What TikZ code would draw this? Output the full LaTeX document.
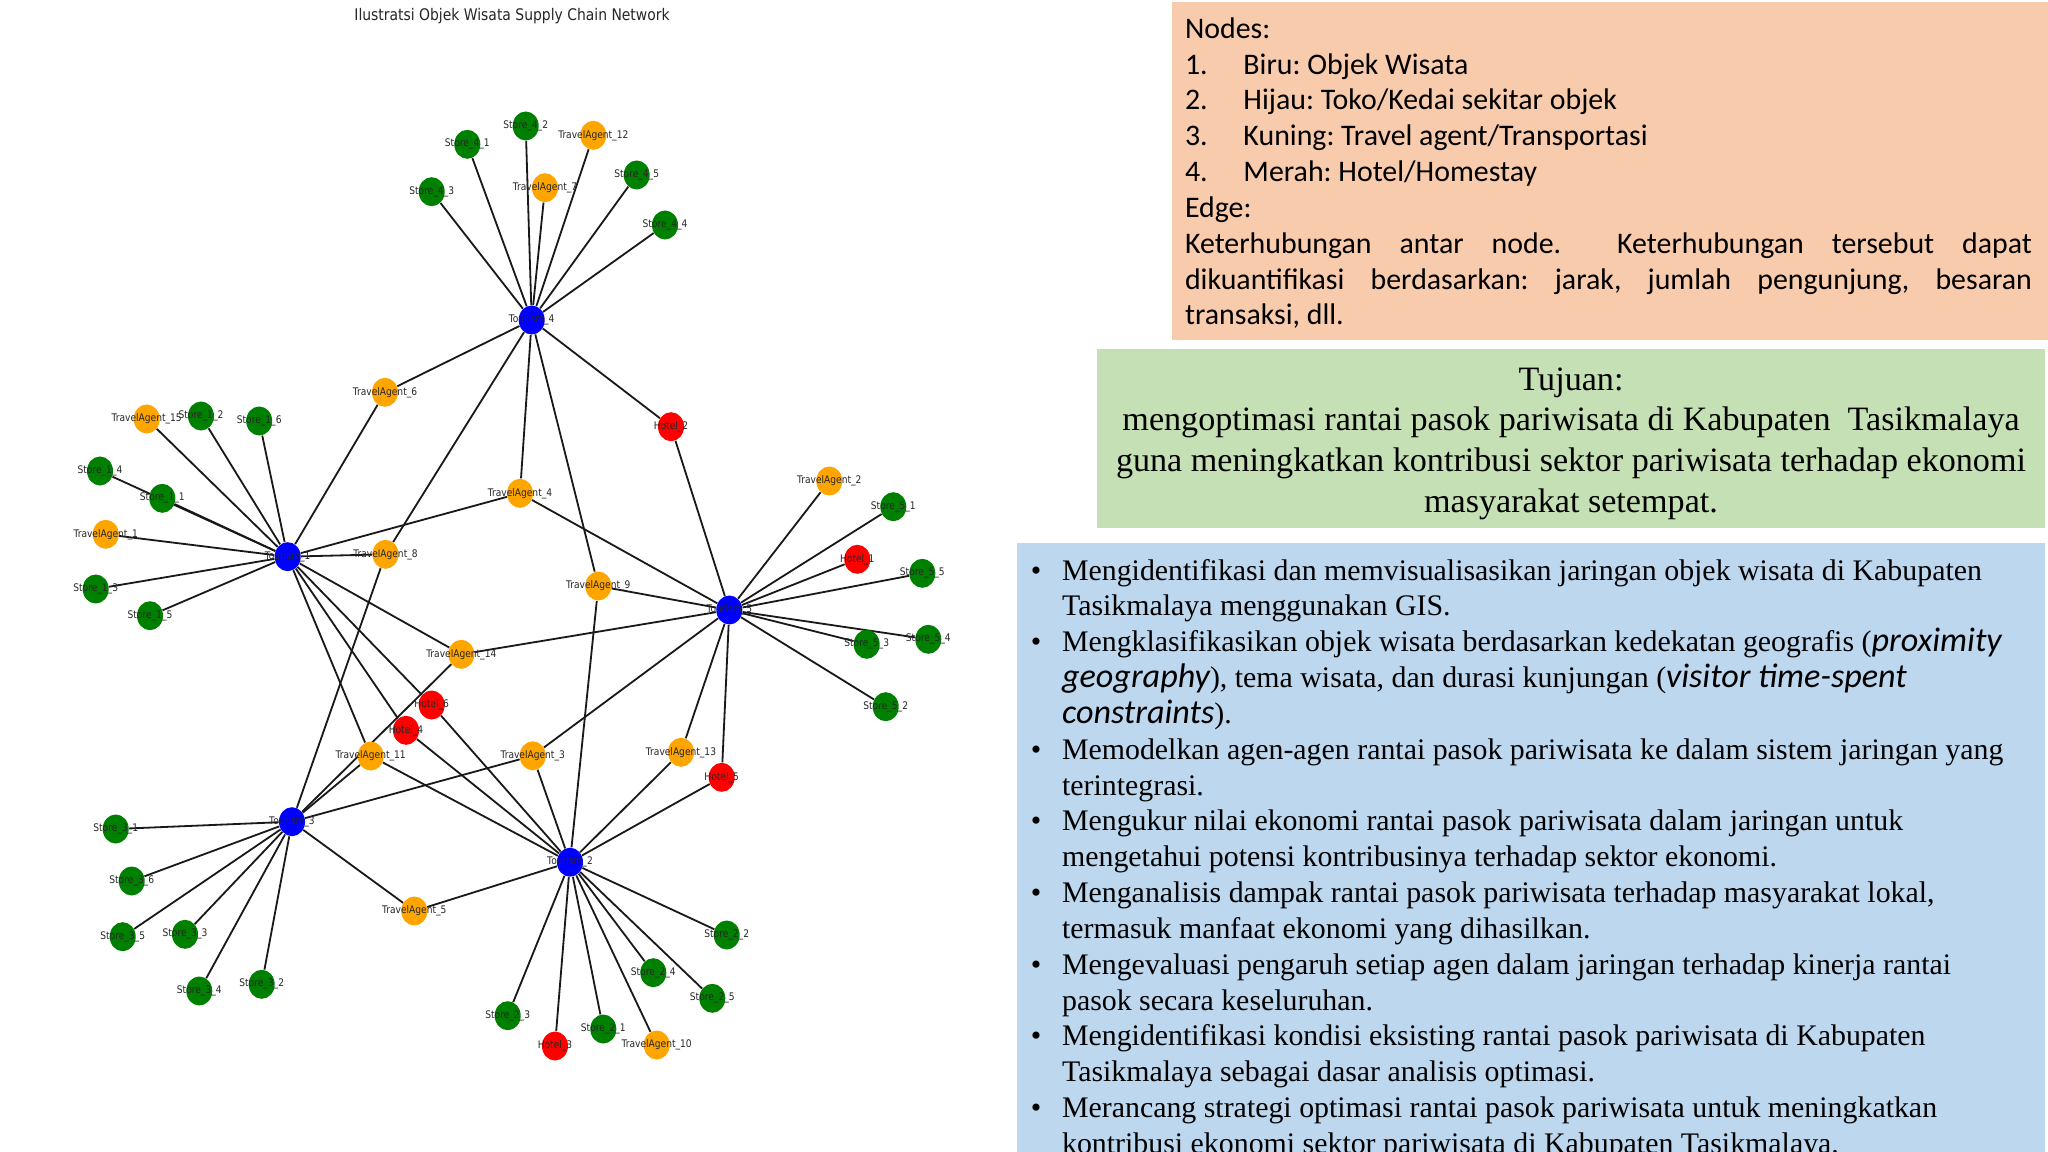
\documentclass[tikz,border=0pt]{standalone}
\usepackage{fontspec}
\setmainfont{Liberation Serif}
\newfontfamily\dejavu{DejaVu Sans}
\newfontfamily\carlito{Carlito}
\usetikzlibrary{shapes.geometric,backgrounds}
\pgfdeclarelayer{bottom}
\pgfsetlayers{bottom,background,main}
\definecolor{nblue}{RGB}{0,0,255}
\definecolor{ngreen}{RGB}{0,128,0}
\definecolor{norange}{RGB}{255,165,0}
\definecolor{nred}{RGB}{255,0,0}
\definecolor{boxorange}{HTML}{F8CBAD}
\definecolor{boxgreen}{HTML}{C5E0B4}
\definecolor{boxblue}{HTML}{BDD7EE}
\newcommand\hs[1]{\scalebox{0.87}[1]{#1}}
\newcommand\cit[1]{{\carlito\itshape\fontsize{16}{16.8}\selectfont #1}}
\frenchspacing
\tikzset{
  nd/.style={ellipse, inner sep=0pt, minimum width=12.2pt, minimum height=13.6pt},
  lbl/.style={font=\dejavu\fontsize{4.9}{5}\selectfont, inner sep=0pt, text=black!85},
  ttl/.style={font=\dejavu\fontsize{7.5}{8}\selectfont, inner sep=0pt, text=black!85},
  edge/.style={draw=black!90, line width=0.85pt},
  otext/.style={font=\carlito\fontsize{14}{16.8}\selectfont, inner sep=0pt, anchor=base west},
  gtext/.style={font=\fontsize{16}{19.2}\selectfont, inner sep=0pt, anchor=base},
  btext/.style={font=\fontsize{14}{16.8}\selectfont, inner sep=0pt, anchor=base west},
}
\begin{document}
\begin{tikzpicture}[x=0.46875pt, y=-0.46875pt]
\useasboundingbox (0,0) rectangle (2048,1152);
\clip (0,0) rectangle (2048,1152);
\begin{pgfonlayer}{bottom}
\fill[white] (0,0) rectangle (2048,1152);
\end{pgfonlayer}

% ---------------- network nodes ----------------
\foreach \n/\c/\x/\y in {
  t4/nblue/531.7/320, t1/nblue/287.7/556.7, t5/nblue/729.3/610,
  t3/nblue/292/821.7, t2/nblue/570/862.2,
  s41/ngreen/467.3/144.3, s42/ngreen/525.7/126, s43/ngreen/431.7/191.7,
  s44/ngreen/665/225, s45/ngreen/636.7/175,
  ta7/norange/545/187.7, ta12/norange/593.3/135.3, ta6/norange/385/392.3,
  ta4/norange/520/493.3, ta8/norange/385.5/554.3, ta9/norange/598.3/586,
  h2/nred/671/426.7,
  ta15/norange/146.7/419, s12/ngreen/201/416, s16/ngreen/259.2/421,
  s14/ngreen/100/471, s11/ngreen/162.3/498.3, ta1/norange/105.7/534.3,
  s13/ngreen/95.7/589, s15/ngreen/150/615.7,
  ta14/norange/461.3/654.3, h6/nred/431.7/705, h4/nred/406/730.3,
  ta11/norange/370.7/756, ta3/norange/532.7/755.8,
  ta2/norange/829.3/481, s51/ngreen/893.3/506.7, h1/nred/857.3/559.3,
  s55/ngreen/922.3/573.3, s53/ngreen/866.7/644.3, s54/ngreen/928.3/639.3,
  s52/ngreen/885.7/706.7, ta13/norange/681/752.3, h5/nred/721.7/777.3,
  s31/ngreen/115.7/829, s36/ngreen/131.7/881, ta5/norange/414.3/911,
  s35/ngreen/122.7/936.7, s33/ngreen/185/934.3, s34/ngreen/199.3/991,
  s32/ngreen/261.7/984.3,
  s22/ngreen/726.7/935, s24/ngreen/653.3/972.7, s25/ngreen/712.3/998.3,
  s23/ngreen/507.7/1015.7, h3/nred/555/1046, s21/ngreen/603.3/1029,
  ta10/norange/656.7/1045}
  {\node[nd, fill=\c] (\n) at (\x,\y) {};}

% ---------------- edges (behind nodes) ----------------
\begin{pgfonlayer}{background}
\foreach \a/\b in {
  t4/s41, t4/s42, t4/s43, t4/s44, t4/s45, t4/ta7, t4/ta12, t4/ta6, t4/ta4,
  t4/ta8, t4/ta9, t4/h2,
  t1/ta15, t1/s12, t1/s16, t1/s14, t1/s11, t1/ta1, t1/s13, t1/s15, t1/ta6,
  t1/ta4, t1/ta8, t1/ta14, t1/h6, t1/h4, t1/ta11,
  t5/h2, t5/ta4, t5/ta9, t5/ta14, t5/ta3, t5/ta13, t5/h5, t5/ta2, t5/s51,
  t5/h1, t5/s55, t5/s54, t5/s53, t5/s52,
  t3/s31, t3/s32, t3/s33, t3/s34, t3/s35, t3/s36, t3/ta8, t3/ta11, t3/ta14,
  t3/ta3, t3/ta5,
  t2/s21, t2/s22, t2/s23, t2/s24, t2/s25, t2/h3, t2/ta10, t2/ta5, t2/ta11,
  t2/h4, t2/h6, t2/ta3, t2/ta9, t2/ta13, t2/h5}
  {\draw[edge] (\a) -- (\b);}
\end{pgfonlayer}

% ---------------- labels ----------------
\foreach \n/\t in {
  t4/Tourism\_4, t1/Tourism\_1, t5/Tourism\_5, t3/Tourism\_3, t2/Tourism\_2,
  s41/Store\_4\_1, s42/Store\_4\_2, s43/Store\_4\_3, s44/Store\_4\_4, s45/Store\_4\_5,
  ta7/TravelAgent\_7, ta12/TravelAgent\_12, ta6/TravelAgent\_6, ta4/TravelAgent\_4,
  ta8/TravelAgent\_8, ta9/TravelAgent\_9, h2/Hotel\_2,
  ta15/TravelAgent\_15, s12/Store\_1\_2, s16/Store\_1\_6, s14/Store\_1\_4,
  s11/Store\_1\_1, ta1/TravelAgent\_1, s13/Store\_1\_3, s15/Store\_1\_5,
  ta14/TravelAgent\_14, h6/Hotel\_6, h4/Hotel\_4, ta11/TravelAgent\_11,
  ta3/TravelAgent\_3,
  ta2/TravelAgent\_2, s51/Store\_5\_1, h1/Hotel\_1, s55/Store\_5\_5,
  s53/Store\_5\_3, s54/Store\_5\_4, s52/Store\_5\_2, ta13/TravelAgent\_13,
  h5/Hotel\_5,
  s31/Store\_3\_1, s36/Store\_3\_6, ta5/TravelAgent\_5, s35/Store\_3\_5,
  s33/Store\_3\_3, s34/Store\_3\_4, s32/Store\_3\_2,
  s22/Store\_2\_2, s24/Store\_2\_4, s25/Store\_2\_5, s23/Store\_2\_3,
  h3/Hotel\_3, s21/Store\_2\_1, ta10/TravelAgent\_10}
  {\node[lbl] (L\n) at (\n) {\hs{\t}};}

\node[ttl] (title) at (512,16) {\hs{Ilustratsi Objek Wisata Supply Chain Network}};

% ---------------- right-hand boxes ----------------
\fill[boxorange] (1171.5,2) rectangle (2048,339.6);
\fill[boxgreen] (1097,348.7) rectangle (2045,527.6);
\fill[boxblue] (1017.4,543.3) rectangle (2045,1160);

\node[otext] (o0) at (1184.6,38.5) {Nodes:};
\node[otext] (o1) at (1184.6,74.3) {\makebox[27.4pt][l]{1.}Biru: Objek Wisata};
\node[otext] (o2) at (1184.6,110.0) {\makebox[27.4pt][l]{2.}Hijau: Toko/Kedai sekitar objek};
\node[otext] (o3) at (1184.6,145.8) {\makebox[27.4pt][l]{3.}Kuning: Travel agent/Transportasi};
\node[otext] (o4) at (1184.6,181.6) {\makebox[27.4pt][l]{4.}Merah: Hotel/Homestay};
\node[otext] (o5) at (1184.6,217.4) {Edge:};
\node[otext] (o6) at (1184.6,253.2) {\parbox[t]{397pt}{\hyphenpenalty=10000
  Keterhubungan antar node.\ \ Keterhubungan tersebut dapat\linebreak
  dikuantifikasi berdasarkan: jarak, jumlah pengunjung, besaran\linebreak
  transaksi, dll.}};

\node[gtext] (g0) at (1571,390) {\parbox[t]{440pt}{\centering
  Tujuan:\\
  mengoptimasi rantai pasok pariwisata di Kabupaten\ \ Tasikmalaya\\
  guna meningkatkan kontribusi sektor pariwisata terhadap ekonomi\\
  masyarakat setempat.}};

\node[btext] (b0) at (1030.5,580) {\parbox[t]{480pt}{\raggedright
  \makebox[14.6pt][l]{\textbullet}Mengidentifikasi dan memvisualisasikan jaringan objek wisata di Kabupaten\\
  \hspace*{14.6pt}Tasikmalaya menggunakan GIS.\\
  \makebox[14.6pt][l]{\textbullet}Mengklasifikasikan objek wisata berdasarkan kedekatan geografis (\cit{proximity}\\
  \hspace*{14.6pt}\cit{geography}), tema wisata, dan durasi kunjungan (\cit{visitor time-spent}\\
  \hspace*{14.6pt}\cit{constraints}).\\
  \makebox[14.6pt][l]{\textbullet}Memodelkan agen-agen rantai pasok pariwisata ke dalam sistem jaringan yang\\
  \hspace*{14.6pt}terintegrasi.\\
  \makebox[14.6pt][l]{\textbullet}Mengukur nilai ekonomi rantai pasok pariwisata dalam jaringan untuk\\
  \hspace*{14.6pt}mengetahui potensi kontribusinya terhadap sektor ekonomi.\\
  \makebox[14.6pt][l]{\textbullet}Menganalisis dampak rantai pasok pariwisata terhadap masyarakat lokal,\\
  \hspace*{14.6pt}termasuk manfaat ekonomi yang dihasilkan.\\
  \makebox[14.6pt][l]{\textbullet}Mengevaluasi pengaruh setiap agen dalam jaringan terhadap kinerja rantai\\
  \hspace*{14.6pt}pasok secara keseluruhan.\\
  \makebox[14.6pt][l]{\textbullet}Mengidentifikasi kondisi eksisting rantai pasok pariwisata di Kabupaten\\
  \hspace*{14.6pt}Tasikmalaya sebagai dasar analisis optimasi.\\
  \makebox[14.6pt][l]{\textbullet}Merancang strategi optimasi rantai pasok pariwisata untuk meningkatkan\\
  \hspace*{14.6pt}kontribusi ekonomi sektor pariwisata di Kabupaten Tasikmalaya.}};
\end{tikzpicture}
\end{document}
